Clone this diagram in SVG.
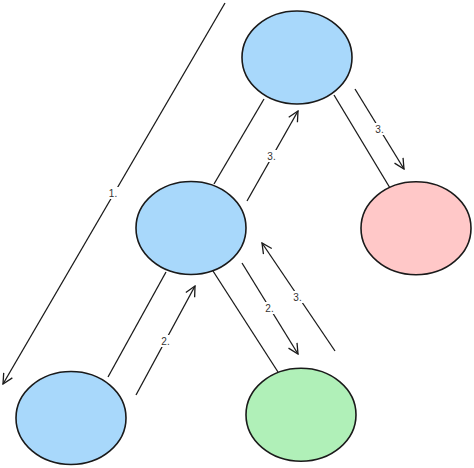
<svg xmlns="http://www.w3.org/2000/svg" width="474" height="468" viewBox="0 0 474 468">
<defs>
<marker id="ah" viewBox="0 0 12 12" refX="11" refY="6" markerWidth="12" markerHeight="12" markerUnits="userSpaceOnUse" orient="auto">
<path d="M1,1 L11,6 L1,11" fill="none" stroke="#1a1a1a" stroke-width="1.3"/>
</marker>
</defs>
<style>
.n{stroke:#1a1a1a;stroke-width:1.6}
.b{fill:#a8d8fb}
.g{fill:#b0f0b8}
.p{fill:#ffc8c8}
.e{stroke:#1a1a1a;stroke-width:1.3;fill:none}
.a{stroke:#1a1a1a;stroke-width:1.3;fill:none;marker-end:url(#ah)}
.lb{fill:#fff}
.t{font-family:"Liberation Sans",Arial,sans-serif;font-size:10px;fill:#333;text-anchor:middle;dominant-baseline:central}
</style>
<g id="connectors">
<line class="e" x1="214" y1="184" x2="264" y2="99"/>
<line class="e" x1="334" y1="95" x2="390" y2="188"/>
<line class="e" x1="108" y1="377" x2="166" y2="272"/>
<line class="e" x1="213" y1="271" x2="278" y2="372"/>
<line class="a" x1="225" y1="3" x2="3" y2="384"/>
<line class="a" x1="136" y1="395" x2="195" y2="286"/>
<line class="a" x1="247" y1="201" x2="298" y2="111"/>
<line class="a" x1="355" y1="89" x2="404" y2="169"/>
<line class="a" x1="242" y1="263" x2="298" y2="354"/>
<line class="a" x1="335" y1="351" x2="262" y2="243"/>
<rect class="lb" x="107" y="187" width="12" height="12"/>
<text class="t" x="113" y="193">1.</text>
<rect class="lb" x="159" y="335" width="13" height="12"/>
<text class="t" x="165.5" y="341">2.</text>
<rect class="lb" x="265" y="150" width="13" height="12"/>
<text class="t" x="271.5" y="156">3.</text>
<rect class="lb" x="373" y="123" width="13" height="12"/>
<text class="t" x="379.5" y="129">3.</text>
<rect class="lb" x="263" y="302" width="13" height="12"/>
<text class="t" x="269.5" y="308">2.</text>
<rect class="lb" x="291" y="291" width="13" height="12"/>
<text class="t" x="297.5" y="297">3.</text>
</g>
<g id="top"><ellipse class="n b" cx="297" cy="57.5" rx="55" ry="46.5"/></g>
<g id="middle"><ellipse class="n b" cx="191" cy="228" rx="55" ry="46.5"/></g>
<g id="bottomleft"><ellipse class="n b" cx="71" cy="418" rx="55" ry="46.5"/></g>
<g id="green"><ellipse class="n g" cx="301" cy="414.7" rx="55" ry="46.5"/></g>
<g id="pink"><ellipse class="n p" cx="416" cy="228.3" rx="55" ry="46.5"/></g>
</svg>
